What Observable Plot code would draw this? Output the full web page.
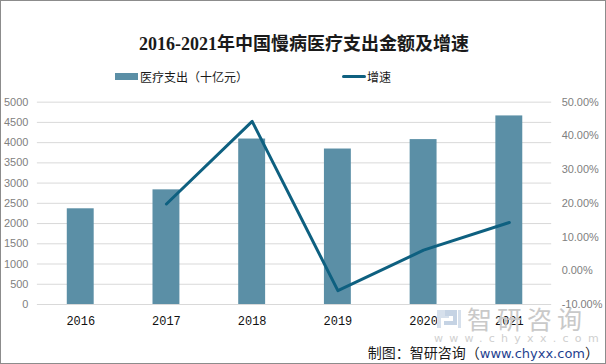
<!DOCTYPE html>
<html><head><meta charset="utf-8">
<script src="https://cdn.jsdelivr.net/npm/d3@7"></script>
<script src="https://cdn.jsdelivr.net/npm/@observablehq/plot@0.6"></script>
<style>
html,body{margin:0;padding:0;background:#fff;}
#wrap{position:relative;width:606px;height:364px;box-sizing:border-box;border:1px solid #8c8c8c;overflow:hidden;font-family:"Noto Sans CJK SC",sans-serif;}
#wrap > svg.plot{position:absolute;left:-1px;top:-1px;}
.t{position:absolute;white-space:nowrap;}
#title{left:0;width:606px;top:28px;text-align:center;font-family:"Liberation Serif","Noto Sans CJK SC",serif;font-weight:bold;font-size:18px;color:#1a1a1a;}
.sw{position:absolute;}
.lg{font-size:12px;color:#1a1a1a;}
#wm1{left:466px;top:304px;font-size:25px;line-height:26px;color:#c9c9c9;letter-spacing:5px;}
#wm2{left:433px;top:331px;font-size:11px;line-height:13px;color:#cfcfcf;letter-spacing:6.3px;font-family:"DejaVu Sans",sans-serif;}
#logo{position:absolute;left:435px;top:307px;}
#cap{right:6px;top:342px;font-size:14px;line-height:19px;color:#1a1a1a;}
#cap span{color:#1f3f8f;font-family:"DejaVu Sans",sans-serif;font-size:13px;}
</style></head>
<body><div id="wrap">
<div class="t" id="title">2016-2021年中国慢病医疗支出金额及增速</div>
<div class="sw" style="left:114px;top:72px;width:23px;height:7px;background:#5b8fa6"></div>
<div class="t lg" style="left:139px;top:67px;">医疗支出（十亿元）</div>
<div class="sw" style="left:341px;top:74px;width:24px;height:3px;background:#0e6080;border-radius:2px"></div>
<div class="t lg" style="left:366px;top:67px;">增速</div>
<svg id="logo" width="26" height="22" viewBox="0 0 26 22"><path d="M1 2 H13 V10 H5 V20 H1 Z" fill="#d6e0ec"/><path d="M8 13 H17 V8 H9 V2 H21 V17 H8 Z" fill="#c5d3e4"/><rect x="22" y="2" width="3" height="18" fill="#d6e0ec"/></svg>
<div class="t" id="wm1">智研咨询</div>
<div class="t" id="wm2">www.chyxx.com</div>
<div class="t" id="cap">制图：智研咨询（<span>www.chyxx.com</span>）</div>
</div>
<script>
const years = ["2016","2017","2018","2019","2020","2021"];
const spending = [2365, 2833, 4089, 3842, 4075, 4660];
const growth = [null, 19.8, 44.3, -5.9, 6.1, 14.3];
const leftTicks = [0,500,1000,1500,2000,2500,3000,3500,4000,4500,5000];
const pctTicks = [-10,0,10,20,30,40,50];

const toLeft = g => (g + 10) / 60 * 5000;
const fromLeft = v => v / 5000 * 60 - 10;

const bars = years.map((y,i) => ({year:y, value:spending[i]}));
const line = years.map((y,i) => ({year:y, g:growth[i]})).filter(d => d.g !== null).map(d => ({year:d.year, v:toLeft(d.g)}));

const chart = Plot.plot({
  width: 606, height: 364,
  marginTop: 102, marginBottom: 59, marginLeft: 37, marginRight: 53,
  style: {background:"transparent", overflow:"visible"},
  x: {domain: years, paddingInner: 0.69, paddingOuter: 0.345, label: null},
  y: {domain: [0,5000], label: null},
  marks: [
    Plot.gridY(leftTicks, {stroke:"#d9d9d9", strokeOpacity:1, strokeWidth:1}),
    Plot.barY(bars, {x:"year", y:"value", fill:"#5b8fa6"}),
    Plot.line(line, {x:"year", y:"v", stroke:"#0e6080", strokeWidth:3}),
    Plot.axisY(leftTicks, {anchor:"left", tickSize:0, tickPadding:9, label:null, fill:"#808080", fontSize:11, fontFamily:"Liberation Sans, sans-serif", tickFormat: d => String(d)}),
    Plot.axisY(pctTicks.map(toLeft), {anchor:"right", tickSize:0, tickPadding:10, label:null, fill:"#808080", fontSize:11, fontFamily:"Liberation Sans, sans-serif", tickFormat: d => fromLeft(d).toFixed(2) + "%"}),
    Plot.axisX({tickSize:0, tickPadding:12, label:null, fill:"#111", fontSize:12, fontFamily:"Liberation Mono, monospace"})
  ]
});
chart.classList.add("plot");
document.getElementById("wrap").insertBefore(chart, document.getElementById("wrap").firstChild);
</script>
</body></html>
